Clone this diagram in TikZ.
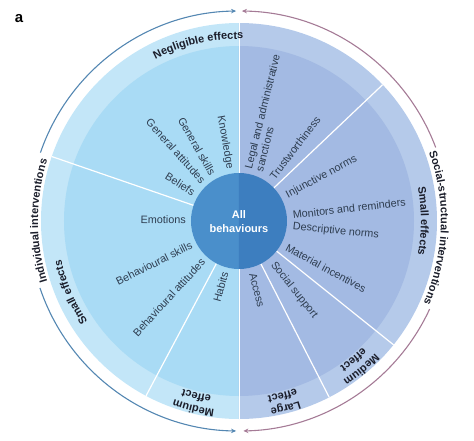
\documentclass[tikz,border=0pt]{standalone}
\usepackage{fontspec}
\setmainfont{Liberation Sans}
\usetikzlibrary{arrows.meta,decorations.text}
\definecolor{lout}{HTML}{C3E6F8}
\definecolor{lin}{HTML}{A9DBF5}
\definecolor{rout}{HTML}{B5CAEA}
\definecolor{rin}{HTML}{A3BAE3}
\definecolor{cl}{HTML}{4A8FCB}
\definecolor{cr}{HTML}{3D7EBF}
\definecolor{txt}{HTML}{2E3D50}
\definecolor{eff}{HTML}{1B1E2B}
\definecolor{arrl}{HTML}{5487B2}
\definecolor{arrr}{HTML}{A57B96}
\newcommand\effont{\bfseries\fontsize{11}{13}\selectfont\color{eff}}
\newcommand\arclabel[4]{\path[decorate,decoration={text along path,text align=center,text={#4}}] ({#1+#3}:#2pt) arc[start angle={#1+#3}, end angle={#1-#3}, radius=#2pt];}
\tikzset{
  lab/.style={inner sep=0pt, text=txt, font=\fontsize{10.8}{11.5}\selectfont},
  labL/.style={lab, anchor=east, rotate=#1+180},
  labR/.style={lab, anchor=west, rotate=#1},
  divider/.style={draw=white, line width=1.2pt},
  outarrow/.style={line width=1.1pt, -{Stealth[length=5pt,width=4.5pt]}},
}
\begin{document}
\begin{tikzpicture}[x=1pt,y=1pt]
\useasboundingbox (-239,-219) rectangle (235,221);
% disc halves
\fill[lout] (0,198pt) arc[start angle=90,end angle=270,radius=198pt] -- cycle;
\fill[rout] (0,-198pt) arc[start angle=-90,end angle=90,radius=198pt] -- cycle;
\fill[lin] (0,175pt) arc[start angle=90,end angle=270,radius=175pt] -- cycle;
\fill[rin] (0,-175pt) arc[start angle=-90,end angle=90,radius=175pt] -- cycle;
% dividers
\foreach \a in {161,242,43.5,-38.7,-62.9} \draw[divider] (\a:48pt) -- (\a:198pt);
\draw[draw=white, line width=0.7pt] (0,-198pt) -- (0,198pt);
% centre
\fill[cl] (0,48pt) arc[start angle=90,end angle=270,radius=48pt] -- cycle;
\fill[cr] (0,-48pt) arc[start angle=-90,end angle=90,radius=48pt] -- cycle;
\node (centre) [align=center, text=white, font=\bfseries\fontsize{11}{14}\selectfont] at (0,-1) {All\\behaviours};
% outer arrows
\draw[arrl, outarrow] (161:210pt) arc[start angle=161, end angle=90.8, radius=210pt];
\draw[arrl, outarrow] (198.6:210pt) arc[start angle=198.6, end angle=269.2, radius=210pt];
\draw[arrr, outarrow] (20.5:210pt) arc[start angle=20.5, end angle=89.2, radius=210pt];
\draw[arrr, outarrow] (-24.8:210pt) arc[start angle=-24.8, end angle=-88.8, radius=210pt];
% side titles
\arclabel{180}{201}{40}{|\effont|Individual interventions}
\arclabel{-2}{202}{40}{|\effont|Social-structual interventions}
% effect labels
\arclabel{103}{182}{40}{|\effont|Negligible effects}
\arclabel{203}{182}{40}{|\effont|Small effects}
\arclabel{0}{182}{40}{|\effont|Small effects}
\arclabel{256.3}{190}{30}{|\effont|Medium}
\arclabel{256.3}{177}{30}{|\effont|effect}
\arclabel{-50.5}{190}{30}{|\effont|Medium}
\arclabel{-50.5}{177}{30}{|\effont|effect}
\arclabel{-76}{190}{30}{|\effont|Large}
\arclabel{-76}{177}{30}{|\effont|effect}
% individual factors
\node (knowledge) [labL=100] at (100:53pt) {Knowledge};
\node (genskills) [labL=119.5] at (119.5:53pt) {General skills};
\node (genatt) [labL=132] at (132:53pt) {General attitudes};
\node (beliefs) [labL=148] at (148:53pt) {Beliefs};
\node (emotions) [labL=179] at (179:53pt) {Emotions};
\node (behskills) [labL=206.5] at (206.5:53pt) {Behavioural skills};
\node (behatt) [labL=227.5] at (227.5:53pt) {Behavioural attitudes};
\node (habits) [labL=254.5] at (254.5:53pt) {Habits};
% social-structural factors
\node (legal) [lab, anchor=west, rotate=76, align=left] at (74:53pt) {Legal and administrative\\sanctions};
\node (trust) [labR=52.5] at (52.5:54pt) {Trustworthiness};
\node (injunctive) [labR=28] at (28:54pt) {Injunctive norms};
\node (monitors) [labR=6.5] at (6.5:54pt) {Monitors and reminders};
\node (descriptive) [labR=-6] at (-6:54pt) {Descriptive norms};
\node (material) [labR=-28.5] at (-28.5:54pt) {Material incentives};
\node (social) [labR=-51.5] at (-51.5:54pt) {Social support};
\node (access) [labR=-75.5] at (-75.5:54pt) {Access};
% panel letter
\node (panel) [font=\bfseries\fontsize{15}{15}\selectfont] at (-220,202) {a};
\end{tikzpicture}
\end{document}
